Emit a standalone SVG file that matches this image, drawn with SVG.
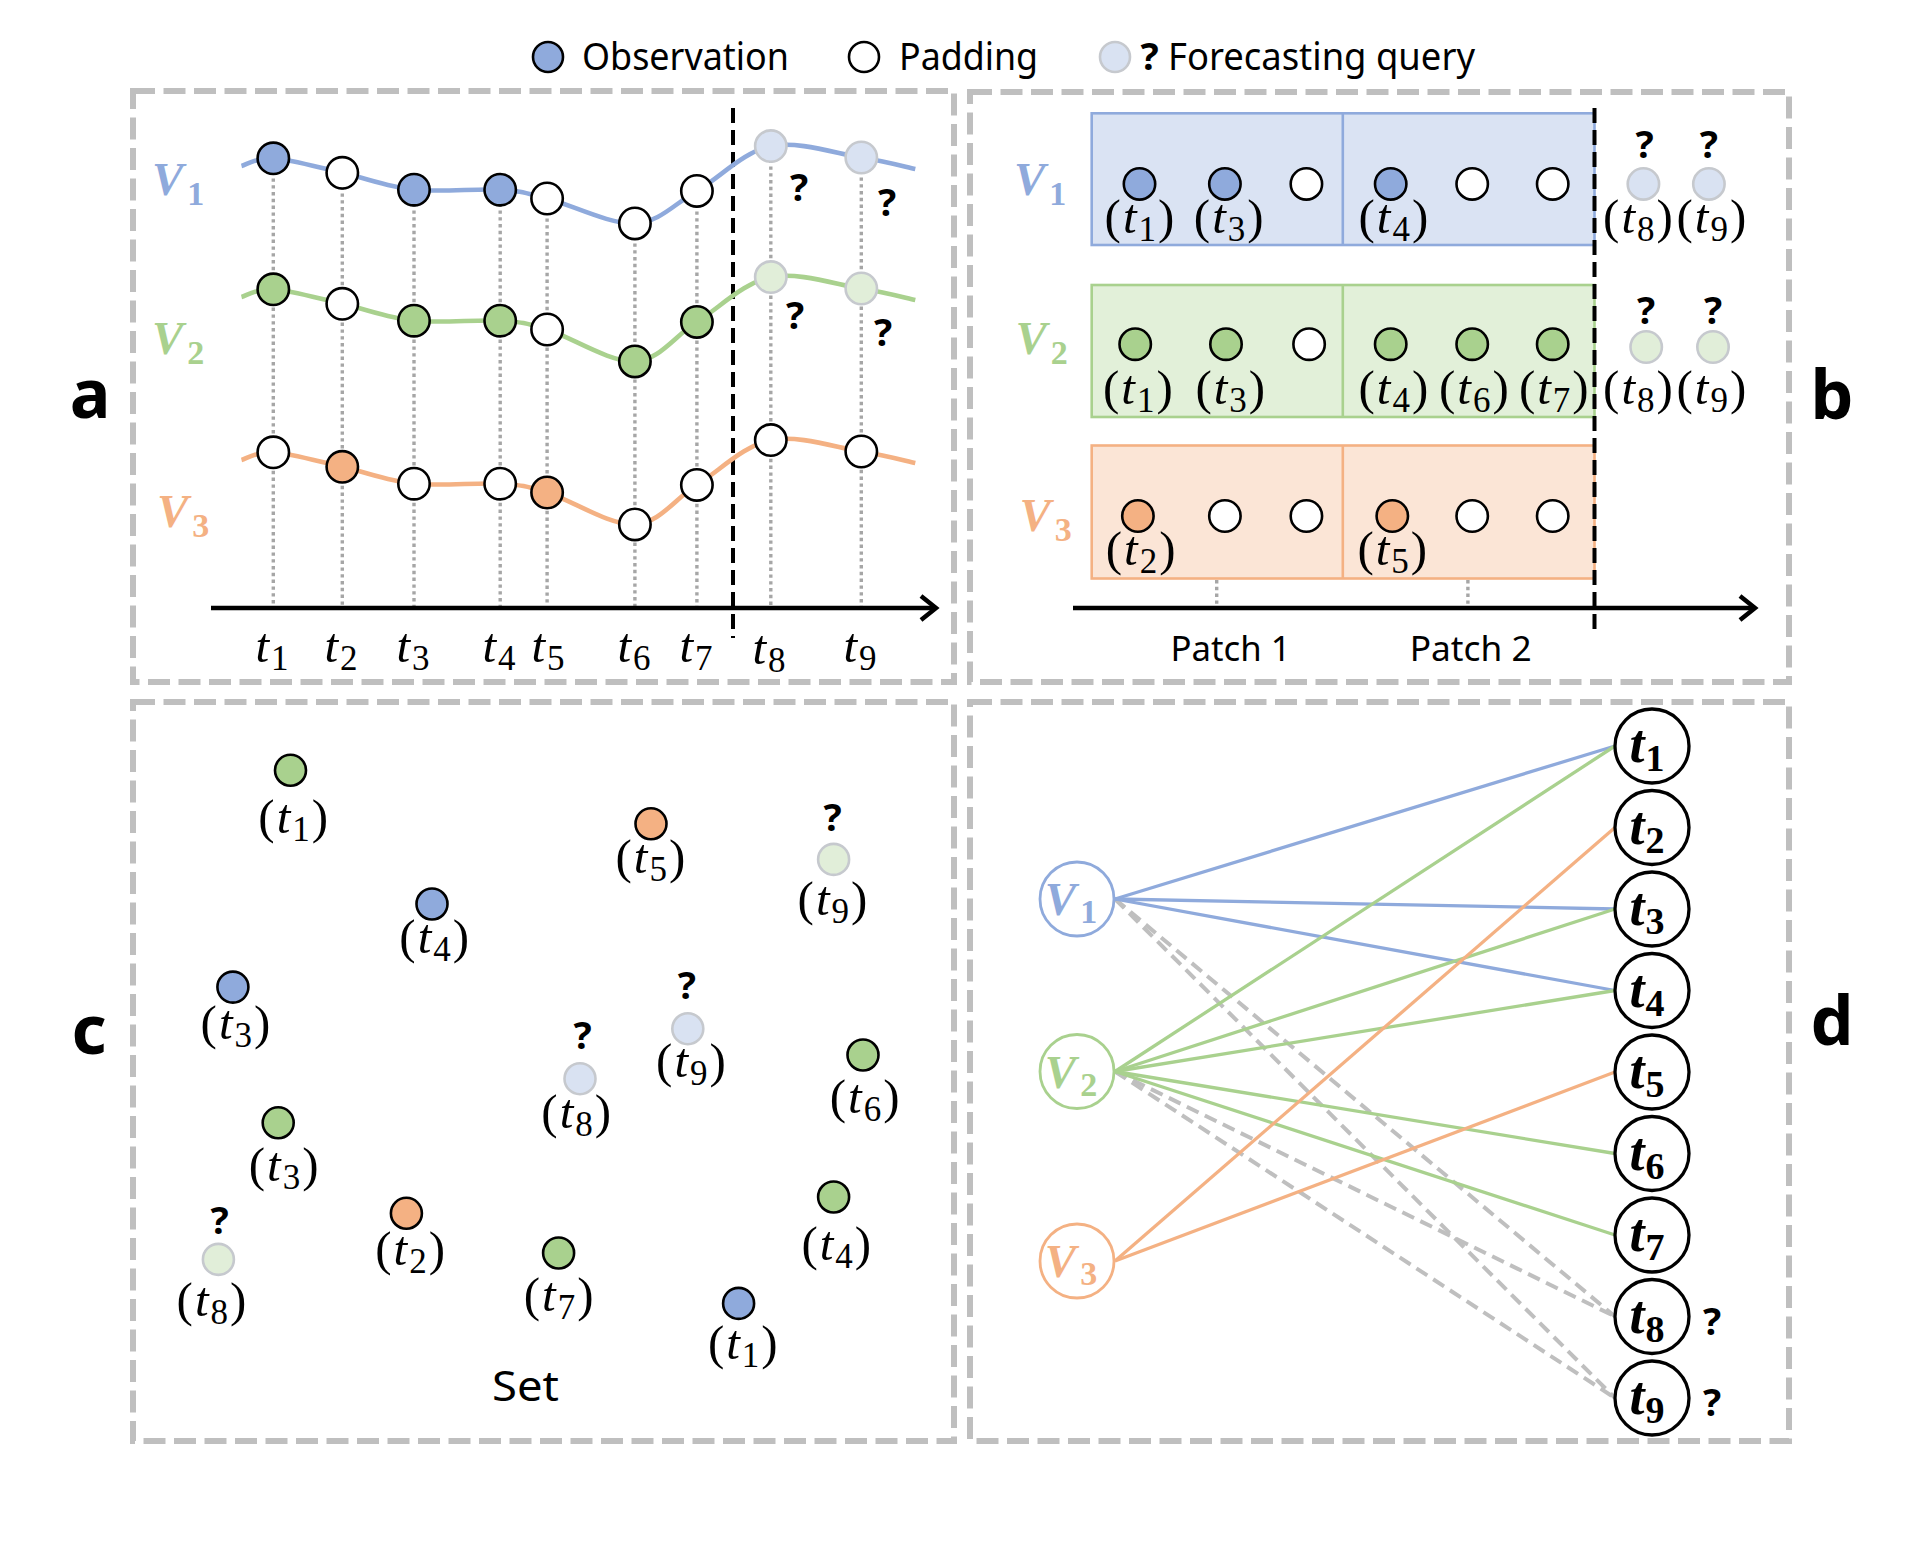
<svg xmlns="http://www.w3.org/2000/svg" width="1932" height="1556" viewBox="0 0 1932 1556">
<defs>
<style>
.bd{fill:none;stroke:#bfbfbf;stroke-width:6;stroke-dasharray:22 8.5}
.c{stroke:#000;stroke-width:2.6}
.fb{fill:#8faadc}.fg{fill:#a9d18e}.fo{fill:#f4b183}.fw{fill:#fff}
.qb{fill:#d9e2f2;stroke:#c6c9ce;stroke-width:2.6}
.qg{fill:#e1eed9;stroke:#c6c9ce;stroke-width:2.6}
.dot{stroke:#a6a6a6;stroke-width:3.4;stroke-dasharray:3.4 3.4;fill:none}
.axis{stroke:#000;stroke-width:4.7;fill:none}
.cut{stroke:#000;stroke-width:4;stroke-dasharray:15 7;fill:none}
.sans{font-family:"Noto Sans","Open Sans",sans-serif;fill:#000}
.lab{font-family:"Noto Sans","Open Sans",sans-serif;font-weight:700;font-size:68px;text-anchor:middle}
.q{font-family:"Noto Sans","Open Sans",sans-serif;font-weight:700;font-size:38px;text-anchor:middle}
.m{font-family:"Liberation Serif","Times New Roman",serif;font-size:49px;text-anchor:middle}
.i{font-style:italic}
.s{font-size:35px}
.V{font-family:"Liberation Serif","Times New Roman",serif;font-size:47px;font-weight:700;font-style:italic}
.Vs{font-size:34px;font-style:normal}
.cb{stroke:#8faadc}.cg{stroke:#a9d18e}.co{stroke:#f4b183}
.tb{fill:#8faadc}.tg{fill:#a9d18e}.to{fill:#f4b183}
.edge{fill:none;stroke-width:3.3}
.dash{fill:none;stroke:#bfbfbf;stroke-width:4;stroke-dasharray:13 7}
.vn{fill:#fff;stroke-width:2.8}
.tn{fill:#fff;stroke:#000;stroke-width:3.3}
.tt{font-family:"Liberation Serif","Times New Roman",serif;font-size:54px;font-weight:700;text-anchor:middle}
.tts{font-size:38px}
</style>
<marker id="arr" viewBox="0 -14 24 28" refX="20" refY="0" markerWidth="24" markerHeight="28" markerUnits="userSpaceOnUse" orient="auto">
<path d="M5,-12 L20,0 L5,12" fill="none" stroke="#000" stroke-width="4.5"/>
</marker>
</defs>
<rect width="1932" height="1556" fill="#fff"/>

<!-- Legend -->
<g id="legend">
<circle class="c fb" cx="548" cy="57" r="15"/>
<text class="sans" x="582" y="70" font-size="39" textLength="207" lengthAdjust="spacingAndGlyphs">Observation</text>
<circle class="c fw" cx="864" cy="57" r="15"/>
<text class="sans" x="899" y="70" font-size="39" textLength="139" lengthAdjust="spacingAndGlyphs">Padding</text>
<circle class="qb" cx="1115" cy="57" r="15"/>
<text class="q" x="1149.5" y="70" font-size="38">?</text>
<text class="sans" x="1168" y="70" font-size="39" textLength="307" lengthAdjust="spacingAndGlyphs">Forecasting query</text>
</g>

<!-- Panel frames and letters -->
<g id="frames">
<rect class="bd" x="133" y="91" width="821" height="591"/>
<rect class="bd" x="970" y="92" width="819" height="590"/>
<rect class="bd" x="133" y="702" width="821" height="739"/>
<rect class="bd" x="970" y="702" width="819" height="739"/>
<text class="lab" x="90" y="418">a</text>
<text class="lab" x="1832" y="419">b</text>
<text class="lab" x="89" y="1054">c</text>
<text class="lab" x="1832" y="1045">d</text>
</g>

<!-- Panel a -->
<g id="panel-a">
<g id="a-guides">
<line class="dot" x1="273.3" y1="158" x2="273.3" y2="606"/>
<line class="dot" x1="342.3" y1="173" x2="342.3" y2="606"/>
<line class="dot" x1="414" y1="190" x2="414" y2="606"/>
<line class="dot" x1="500.2" y1="190" x2="500.2" y2="606"/>
<line class="dot" x1="547.1" y1="198" x2="547.1" y2="606"/>
<line class="dot" x1="634.9" y1="223" x2="634.9" y2="606"/>
<line class="dot" x1="696.9" y1="191" x2="696.9" y2="606"/>
<line class="dot" x1="770.8" y1="146" x2="770.8" y2="606"/>
<line class="dot" x1="861.3" y1="157" x2="861.3" y2="606"/>
<line class="axis" x1="211" y1="608" x2="936" y2="608" marker-end="url(#arr)"/>
<line class="cut" x1="733" y1="108" x2="733" y2="638"/>
</g>
<g id="a-curves" fill="none" stroke-width="4.6">
<path stroke="#8faadc" d="M241.5,166 C246.8,164.7 256.5,157.2 273.3,158.3 C290.1,159.4 318.9,167.6 342.3,172.8 C365.8,178 387.7,186.9 414,189.7 C440.3,192.5 478,188.2 500.2,189.7 C522.4,191.2 524.7,192.9 547.1,198.5 C569.6,204.1 609.9,224.7 634.9,223.4 C659.9,222.1 674.3,203.8 696.9,190.9 C719.5,178 743.4,151.7 770.8,146.1 C798.2,140.5 837.2,153.7 861.3,157.5 C885.4,161.3 906.3,167.1 915.3,169"/>
<path stroke="#a9d18e" d="M241.5,297 C246.8,295.7 256.5,288.2 273.3,289.3 C290.1,290.4 318.9,298.6 342.3,303.8 C365.8,309 387.7,317.9 414,320.7 C440.3,323.5 478,319.2 500.2,320.7 C522.4,322.2 524.7,322.7 547.1,329.5 C569.6,336.3 609.9,362.7 634.9,361.4 C659.9,360.1 674.3,336 696.9,321.9 C719.5,307.8 743.4,282.7 770.8,277.1 C798.2,271.5 837.2,284.7 861.3,288.5 C885.4,292.3 906.3,298.1 915.3,300"/>
<path stroke="#f4b183" d="M241.5,460 C246.8,458.7 256.5,451.2 273.3,452.3 C290.1,453.4 318.9,461.6 342.3,466.8 C365.8,472 387.7,480.9 414,483.7 C440.3,486.5 478,482.2 500.2,483.7 C522.4,485.2 524.7,485.7 547.1,492.5 C569.6,499.3 609.9,525.7 634.9,524.4 C659.9,523.1 674.3,499 696.9,484.9 C719.5,470.8 743.4,445.7 770.8,440.1 C798.2,434.5 837.2,447.7 861.3,451.5 C885.4,455.3 906.3,461.1 915.3,463"/>
</g>
<g id="a-v1">
<circle class="c fb" cx="273.3" cy="158.3" r="15.7"/>
<circle class="c fw" cx="342.3" cy="172.8" r="15.7"/>
<circle class="c fb" cx="414" cy="189.7" r="15.7"/>
<circle class="c fb" cx="500.2" cy="189.7" r="15.7"/>
<circle class="c fw" cx="547.1" cy="198.5" r="15.7"/>
<circle class="c fw" cx="634.9" cy="223.4" r="15.7"/>
<circle class="c fw" cx="696.9" cy="190.9" r="15.7"/>
<circle class="qb" cx="770.8" cy="146.1" r="15.7"/>
<circle class="qb" cx="861.3" cy="157.5" r="15.7"/>
</g>
<g id="a-v2">
<circle class="c fg" cx="273.3" cy="289.3" r="15.7"/>
<circle class="c fw" cx="342.3" cy="303.8" r="15.7"/>
<circle class="c fg" cx="414" cy="320.7" r="15.7"/>
<circle class="c fg" cx="500.2" cy="320.7" r="15.7"/>
<circle class="c fw" cx="547.1" cy="329.5" r="15.7"/>
<circle class="c fg" cx="634.9" cy="361.4" r="15.7"/>
<circle class="c fg" cx="696.9" cy="321.9" r="15.7"/>
<circle class="qg" cx="770.8" cy="277.1" r="15.7"/>
<circle class="qg" cx="861.3" cy="288.5" r="15.7"/>
</g>
<g id="a-v3">
<circle class="c fw" cx="273.3" cy="452.3" r="15.7"/>
<circle class="c fo" cx="342.3" cy="466.8" r="15.7"/>
<circle class="c fw" cx="414" cy="483.7" r="15.7"/>
<circle class="c fw" cx="500.2" cy="483.7" r="15.7"/>
<circle class="c fo" cx="547.1" cy="492.5" r="15.7"/>
<circle class="c fw" cx="634.9" cy="524.4" r="15.7"/>
<circle class="c fw" cx="696.9" cy="484.9" r="15.7"/>
<circle class="c fw" cx="770.8" cy="440.1" r="15.7"/>
<circle class="c fw" cx="861.3" cy="451.5" r="15.7"/>
</g>
<g id="a-labels">
<text class="q" x="799" y="201">?</text>
<text class="q" x="887" y="216">?</text>
<text class="q" x="795" y="329">?</text>
<text class="q" x="883" y="346">?</text>
<text class="V tb" x="152" y="195">V<tspan class="Vs" dx="4" dy="10">1</tspan></text>
<text class="V tg" x="152" y="354">V<tspan class="Vs" dx="4" dy="10">2</tspan></text>
<text class="V to" x="157" y="527">V<tspan class="Vs" dx="4" dy="10">3</tspan></text>
<text class="m" x="272" y="662"><tspan class="i">t</tspan><tspan class="s" dx="2" dy="8">1</tspan></text>
<text class="m" x="341" y="662"><tspan class="i">t</tspan><tspan class="s" dx="2" dy="8">2</tspan></text>
<text class="m" x="413" y="662"><tspan class="i">t</tspan><tspan class="s" dx="2" dy="8">3</tspan></text>
<text class="m" x="499" y="662"><tspan class="i">t</tspan><tspan class="s" dx="2" dy="8">4</tspan></text>
<text class="m" x="548" y="662"><tspan class="i">t</tspan><tspan class="s" dx="2" dy="8">5</tspan></text>
<text class="m" x="634" y="662"><tspan class="i">t</tspan><tspan class="s" dx="2" dy="8">6</tspan></text>
<text class="m" x="696" y="662"><tspan class="i">t</tspan><tspan class="s" dx="2" dy="8">7</tspan></text>
<text class="m" x="769" y="664"><tspan class="i">t</tspan><tspan class="s" dx="2" dy="8">8</tspan></text>
<text class="m" x="860" y="662"><tspan class="i">t</tspan><tspan class="s" dx="2" dy="8">9</tspan></text>
</g>
</g>

<!-- Panel b -->
<g id="panel-b">
<g id="b-boxes" stroke-width="2.6">
<rect x="1091.7" y="113.3" width="502.8" height="131.7" fill="#dae3f3" stroke="#8faadc"/>
<line x1="1342.8" y1="113.3" x2="1342.8" y2="245" stroke="#8faadc"/>
<rect x="1091.7" y="285" width="502.8" height="132" fill="#e2f0d9" stroke="#a9d18e"/>
<line x1="1342.8" y1="285" x2="1342.8" y2="417" stroke="#a9d18e"/>
<rect x="1091.7" y="445.5" width="502.8" height="133" fill="#fbe5d6" stroke="#f4b183"/>
<line x1="1342.8" y1="445.5" x2="1342.8" y2="578.5" stroke="#f4b183"/>
</g>
<g id="b-axis">
<line class="dot" x1="1216.7" y1="580" x2="1216.7" y2="606"/>
<line class="dot" x1="1467.9" y1="580" x2="1467.9" y2="606"/>
<line class="axis" x1="1073" y1="608" x2="1755" y2="608" marker-end="url(#arr)"/>
<line class="cut" x1="1594.5" y1="108" x2="1594.5" y2="634"/>
<text class="sans" x="1170.5" y="661" font-size="35" textLength="120" lengthAdjust="spacingAndGlyphs">Patch 1</text>
<text class="sans" x="1409.7" y="661" font-size="35" textLength="122" lengthAdjust="spacingAndGlyphs">Patch 2</text>
</g>
<g id="b-v1">
<circle class="c fb" cx="1139.5" cy="183.9" r="15.7"/>
<circle class="c fb" cx="1224.9" cy="183.9" r="15.7"/>
<circle class="c fw" cx="1306.4" cy="183.9" r="15.7"/>
<circle class="c fb" cx="1390.7" cy="183.9" r="15.7"/>
<circle class="c fw" cx="1472.2" cy="183.9" r="15.7"/>
<circle class="c fw" cx="1552.7" cy="183.9" r="15.7"/>
<circle class="qb" cx="1643.4" cy="183.9" r="15.7"/>
<circle class="qb" cx="1708.9" cy="183.9" r="15.7"/>
<text class="q" x="1644.5" y="158">?</text>
<text class="q" x="1708.7" y="158">?</text>
<text class="m" x="1139.5" y="233">(<tspan class="i" dx="2">t</tspan><tspan class="s" dx="2" dy="8">1</tspan><tspan dx="2" dy="-8">)</tspan></text>
<text class="m" x="1228.7" y="233">(<tspan class="i" dx="2">t</tspan><tspan class="s" dx="2" dy="8">3</tspan><tspan dx="2" dy="-8">)</tspan></text>
<text class="m" x="1393.4" y="233">(<tspan class="i" dx="2">t</tspan><tspan class="s" dx="2" dy="8">4</tspan><tspan dx="2" dy="-8">)</tspan></text>
<text class="m" x="1638" y="233">(<tspan class="i" dx="2">t</tspan><tspan class="s" dx="2" dy="8">8</tspan><tspan dx="2" dy="-8">)</tspan></text>
<text class="m" x="1711.4" y="233">(<tspan class="i" dx="2">t</tspan><tspan class="s" dx="2" dy="8">9</tspan><tspan dx="2" dy="-8">)</tspan></text>
<text class="V tb" x="1014" y="195">V<tspan class="Vs" dx="4" dy="10">1</tspan></text>
</g>
<g id="b-v2">
<circle class="c fg" cx="1135.2" cy="344.2" r="15.7"/>
<circle class="c fg" cx="1226" cy="344.2" r="15.7"/>
<circle class="c fw" cx="1309.1" cy="344.2" r="15.7"/>
<circle class="c fg" cx="1390.7" cy="344.2" r="15.7"/>
<circle class="c fg" cx="1472.2" cy="344.2" r="15.7"/>
<circle class="c fg" cx="1552.7" cy="344.2" r="15.7"/>
<circle class="qg" cx="1646.2" cy="347" r="15.7"/>
<circle class="qg" cx="1713" cy="347" r="15.7"/>
<text class="q" x="1646" y="324">?</text>
<text class="q" x="1713" y="324">?</text>
<text class="m" x="1137.9" y="404">(<tspan class="i" dx="2">t</tspan><tspan class="s" dx="2" dy="8">1</tspan><tspan dx="2" dy="-8">)</tspan></text>
<text class="m" x="1230.3" y="404">(<tspan class="i" dx="2">t</tspan><tspan class="s" dx="2" dy="8">3</tspan><tspan dx="2" dy="-8">)</tspan></text>
<text class="m" x="1393.4" y="404">(<tspan class="i" dx="2">t</tspan><tspan class="s" dx="2" dy="8">4</tspan><tspan dx="2" dy="-8">)</tspan></text>
<text class="m" x="1473.9" y="404">(<tspan class="i" dx="2">t</tspan><tspan class="s" dx="2" dy="8">6</tspan><tspan dx="2" dy="-8">)</tspan></text>
<text class="m" x="1553.8" y="404">(<tspan class="i" dx="2">t</tspan><tspan class="s" dx="2" dy="8">7</tspan><tspan dx="2" dy="-8">)</tspan></text>
<text class="m" x="1638" y="404">(<tspan class="i" dx="2">t</tspan><tspan class="s" dx="2" dy="8">8</tspan><tspan dx="2" dy="-8">)</tspan></text>
<text class="m" x="1711.4" y="404">(<tspan class="i" dx="2">t</tspan><tspan class="s" dx="2" dy="8">9</tspan><tspan dx="2" dy="-8">)</tspan></text>
<text class="V tg" x="1015.5" y="354">V<tspan class="Vs" dx="4" dy="10">2</tspan></text>
</g>
<g id="b-v3">
<circle class="c fo" cx="1137.9" cy="516" r="15.7"/>
<circle class="c fw" cx="1224.9" cy="516" r="15.7"/>
<circle class="c fw" cx="1306.4" cy="516" r="15.7"/>
<circle class="c fo" cx="1392.3" cy="516" r="15.7"/>
<circle class="c fw" cx="1472.2" cy="516" r="15.7"/>
<circle class="c fw" cx="1552.7" cy="516" r="15.7"/>
<text class="m" x="1140.6" y="565">(<tspan class="i" dx="2">t</tspan><tspan class="s" dx="2" dy="8">2</tspan><tspan dx="2" dy="-8">)</tspan></text>
<text class="m" x="1392.3" y="565">(<tspan class="i" dx="2">t</tspan><tspan class="s" dx="2" dy="8">5</tspan><tspan dx="2" dy="-8">)</tspan></text>
<text class="V to" x="1019.5" y="531">V<tspan class="Vs" dx="4" dy="10">3</tspan></text>
</g>
</g>

<!-- Panel c -->
<g id="panel-c">
<g id="c1"><circle class="c fg" cx="290.5" cy="770.3" r="15.5"/><text class="m" x="293.2" y="833">(<tspan class="i" dx="2">t</tspan><tspan class="s" dx="2" dy="8">1</tspan><tspan dx="2" dy="-8">)</tspan></text></g>
<g id="c2"><circle class="c fo" cx="651" cy="823.8" r="15.5"/><text class="m" x="650.4" y="873">(<tspan class="i" dx="2">t</tspan><tspan class="s" dx="2" dy="8">5</tspan><tspan dx="2" dy="-8">)</tspan></text></g>
<g id="c3"><text class="q" x="832.5" y="831">?</text><circle class="qg" cx="833.6" cy="859.4" r="15.5"/><text class="m" x="832.5" y="915">(<tspan class="i" dx="2">t</tspan><tspan class="s" dx="2" dy="8">9</tspan><tspan dx="2" dy="-8">)</tspan></text></g>
<g id="c4"><circle class="c fb" cx="432" cy="904" r="15.5"/><text class="m" x="434.2" y="953">(<tspan class="i" dx="2">t</tspan><tspan class="s" dx="2" dy="8">4</tspan><tspan dx="2" dy="-8">)</tspan></text></g>
<g id="c5"><circle class="c fb" cx="232.9" cy="987.1" r="15.5"/><text class="m" x="235.5" y="1039">(<tspan class="i" dx="2">t</tspan><tspan class="s" dx="2" dy="8">3</tspan><tspan dx="2" dy="-8">)</tspan></text></g>
<g id="c6"><text class="q" x="686.8" y="999">?</text><circle class="qb" cx="687.8" cy="1028.7" r="15.5"/><text class="m" x="691" y="1077">(<tspan class="i" dx="2">t</tspan><tspan class="s" dx="2" dy="8">9</tspan><tspan dx="2" dy="-8">)</tspan></text></g>
<g id="c7"><text class="q" x="582.6" y="1049">?</text><circle class="qb" cx="580" cy="1078.7" r="15.5"/><text class="m" x="576.2" y="1128">(<tspan class="i" dx="2">t</tspan><tspan class="s" dx="2" dy="8">8</tspan><tspan dx="2" dy="-8">)</tspan></text></g>
<g id="c8"><circle class="c fg" cx="863" cy="1055" r="15.5"/><text class="m" x="864.6" y="1113">(<tspan class="i" dx="2">t</tspan><tspan class="s" dx="2" dy="8">6</tspan><tspan dx="2" dy="-8">)</tspan></text></g>
<g id="c9"><circle class="c fg" cx="278.2" cy="1122.8" r="15.5"/><text class="m" x="283.6" y="1181">(<tspan class="i" dx="2">t</tspan><tspan class="s" dx="2" dy="8">3</tspan><tspan dx="2" dy="-8">)</tspan></text></g>
<g id="c10"><circle class="c fg" cx="833.6" cy="1197" r="15.5"/><text class="m" x="836.3" y="1260">(<tspan class="i" dx="2">t</tspan><tspan class="s" dx="2" dy="8">4</tspan><tspan dx="2" dy="-8">)</tspan></text></g>
<g id="c11"><text class="q" x="219.5" y="1234">?</text><circle class="qg" cx="218.4" cy="1259.4" r="15.5"/><text class="m" x="211.5" y="1316">(<tspan class="i" dx="2">t</tspan><tspan class="s" dx="2" dy="8">8</tspan><tspan dx="2" dy="-8">)</tspan></text></g>
<g id="c12"><circle class="c fo" cx="406.4" cy="1213.3" r="15.5"/><text class="m" x="410.1" y="1265">(<tspan class="i" dx="2">t</tspan><tspan class="s" dx="2" dy="8">2</tspan><tspan dx="2" dy="-8">)</tspan></text></g>
<g id="c13"><circle class="c fg" cx="558.6" cy="1253" r="15.5"/><text class="m" x="558.6" y="1311">(<tspan class="i" dx="2">t</tspan><tspan class="s" dx="2" dy="8">7</tspan><tspan dx="2" dy="-8">)</tspan></text></g>
<g id="c14"><circle class="c fb" cx="738.6" cy="1303.4" r="15.5"/><text class="m" x="742.8" y="1359">(<tspan class="i" dx="2">t</tspan><tspan class="s" dx="2" dy="8">1</tspan><tspan dx="2" dy="-8">)</tspan></text></g>
<text class="sans" x="492" y="1401" font-size="41" textLength="67" lengthAdjust="spacingAndGlyphs">Set</text>
</g>

<!-- Panel d -->
<g id="panel-d">
<g id="connectors">
<line class="dash" x1="1115" y1="899" x2="1615" y2="1316.5"/>
<line class="dash" x1="1115" y1="899" x2="1615" y2="1398"/>
<line class="dash" x1="1115" y1="1071.5" x2="1615" y2="1316.5"/>
<line class="dash" x1="1115" y1="1071.5" x2="1615" y2="1398"/>
<line class="edge cb" x1="1115" y1="899" x2="1615" y2="746"/>
<line class="edge cb" x1="1115" y1="899" x2="1615" y2="909"/>
<line class="edge cb" x1="1115" y1="899" x2="1615" y2="990.5"/>
<line class="edge cg" x1="1115" y1="1071.5" x2="1615" y2="746"/>
<line class="edge cg" x1="1115" y1="1071.5" x2="1615" y2="909"/>
<line class="edge cg" x1="1115" y1="1071.5" x2="1615" y2="990.5"/>
<line class="edge cg" x1="1115" y1="1071.5" x2="1615" y2="1153.5"/>
<line class="edge cg" x1="1115" y1="1071.5" x2="1615" y2="1235"/>
<line class="edge co" x1="1115" y1="1261" x2="1615" y2="827.5"/>
<line class="edge co" x1="1115" y1="1261" x2="1615" y2="1072"/>
</g>
<g id="d-V1"><circle class="vn cb" cx="1077" cy="899" r="37"/><text class="V tb" x="1071" y="915" text-anchor="middle">V<tspan class="Vs" dx="4" dy="8">1</tspan></text></g>
<g id="d-V2"><circle class="vn cg" cx="1077" cy="1071.5" r="37"/><text class="V tg" x="1071" y="1087.5" text-anchor="middle">V<tspan class="Vs" dx="4" dy="8">2</tspan></text></g>
<g id="d-V3"><circle class="vn co" cx="1077" cy="1261" r="37"/><text class="V to" x="1071" y="1277" text-anchor="middle">V<tspan class="Vs" dx="4" dy="8">3</tspan></text></g>
<g id="d-t1"><circle class="tn" cx="1652" cy="746" r="37"/><text class="tt" x="1647" y="762"><tspan class="i">t</tspan><tspan class="tts" dx="1" dy="9">1</tspan></text></g>
<g id="d-t2"><circle class="tn" cx="1652" cy="827.5" r="37"/><text class="tt" x="1647" y="843.5"><tspan class="i">t</tspan><tspan class="tts" dx="1" dy="9">2</tspan></text></g>
<g id="d-t3"><circle class="tn" cx="1652" cy="909" r="37"/><text class="tt" x="1647" y="925"><tspan class="i">t</tspan><tspan class="tts" dx="1" dy="9">3</tspan></text></g>
<g id="d-t4"><circle class="tn" cx="1652" cy="990.5" r="37"/><text class="tt" x="1647" y="1006.5"><tspan class="i">t</tspan><tspan class="tts" dx="1" dy="9">4</tspan></text></g>
<g id="d-t5"><circle class="tn" cx="1652" cy="1072" r="37"/><text class="tt" x="1647" y="1088"><tspan class="i">t</tspan><tspan class="tts" dx="1" dy="9">5</tspan></text></g>
<g id="d-t6"><circle class="tn" cx="1652" cy="1153.5" r="37"/><text class="tt" x="1647" y="1169.5"><tspan class="i">t</tspan><tspan class="tts" dx="1" dy="9">6</tspan></text></g>
<g id="d-t7"><circle class="tn" cx="1652" cy="1235" r="37"/><text class="tt" x="1647" y="1251"><tspan class="i">t</tspan><tspan class="tts" dx="1" dy="9">7</tspan></text></g>
<g id="d-t8"><circle class="tn" cx="1652" cy="1316.5" r="37"/><text class="tt" x="1647" y="1332.5"><tspan class="i">t</tspan><tspan class="tts" dx="1" dy="9">8</tspan></text></g>
<g id="d-t9"><circle class="tn" cx="1652" cy="1398" r="37"/><text class="tt" x="1647" y="1414"><tspan class="i">t</tspan><tspan class="tts" dx="1" dy="9">9</tspan></text></g>
<text class="q" x="1712" y="1335">?</text>
<text class="q" x="1712" y="1416">?</text>
</g>
</svg>
